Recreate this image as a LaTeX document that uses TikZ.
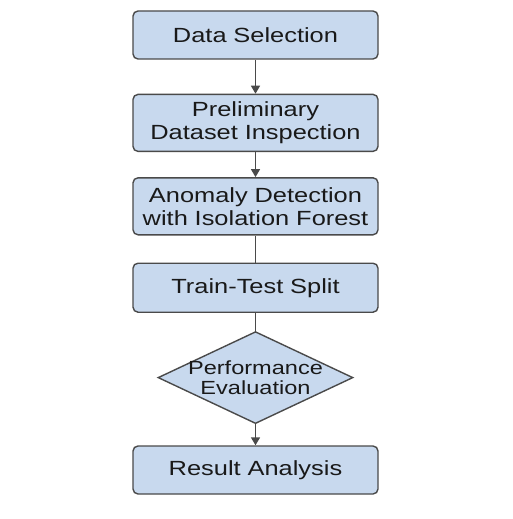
\documentclass[tikz,border=0pt]{standalone}
\usepackage{fontspec}
\setmainfont[FakeStretch=1.24]{Liberation Sans}
\usetikzlibrary{positioning,arrows.meta,shapes.geometric}
\definecolor{boxblue}{HTML}{C8D9EE}
\definecolor{boxline}{HTML}{4A4A4A}

\begin{document}
\begin{tikzpicture}[>={Triangle[length=8pt,width=9pt]},x=1pt,y=1pt,
  stage/.style={draw=boxline,line width=1.4pt,fill=boxblue,rounded corners=5pt,
    minimum width=245pt,minimum height=48pt,text width=235pt,align=center,
    inner sep=0pt,font=\fontsize{20.5}{23}\selectfont,text=black!90},
  decide/.style={draw=boxline,line width=1.4pt,fill=boxblue,diamond,
    minimum width=195pt,minimum height=92pt,inner sep=0pt},
  link/.style={draw=boxline,line width=1.5pt}]
\useasboundingbox (0,0) rectangle (512,-519);
\node[stage] (sel) at (255.5,-35) {Data Selection};
\node[stage,minimum height=57pt,below=34pt of sel] (insp) {Preliminary\\Dataset Inspection};
\node[stage,minimum height=57pt,below=25pt of insp] (anom) {Anomaly Detection\\with Isolation Forest};
\node[stage,minimum height=49pt,below=27pt of anom] (split) {Train-Test Split};
\node[decide,below=18pt of split,
  label={[font=\fontsize{19}{20}\selectfont,align=center,text=black!90]center:Performance\\Evaluation}] (eval) {};
\node[stage,below=21pt of eval] (res) {Result Analysis};
\draw[link,->] (sel) -- (insp);
\draw[link,->] (insp) -- (anom);
\draw[link] (anom) -- (split);
\draw[link] (split) -- (eval);
\draw[link,->] (eval) -- (res);
\end{tikzpicture}
\end{document}
